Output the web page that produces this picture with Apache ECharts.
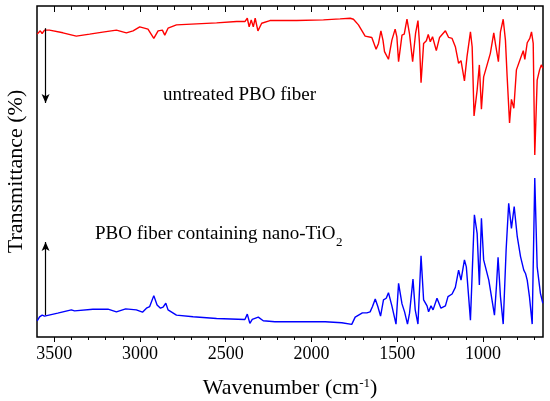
<!DOCTYPE html>
<html>
<head>
<meta charset="utf-8">
<title>FTIR spectra</title>
<script src="https://cdn.jsdelivr.net/npm/echarts@6/dist/echarts.min.js"></script>
<style>
  html, body { margin: 0; padding: 0; background: #fff; }
  #main { width: 550px; height: 401px; }
</style>
</head>
<body>
<div id="main"></div>
<script>
// untreated PBO fiber (red)
var redWn = [3599, 3581, 3570, 3556, 3527, 3449, 3371, 3293, 3217, 3137, 3079, 3040, 3001, 2953, 2919, 2894,
  2869, 2855, 2836, 2787, 2670, 2553, 2436, 2388, 2374, 2363, 2351, 2339, 2328, 2312, 2290, 2242, 2086,
  1930, 1833, 1774, 1755, 1726, 1687, 1648, 1638, 1623, 1609, 1595, 1583, 1574, 1564, 1551, 1531, 1512,
  1502, 1492, 1472, 1459, 1443, 1428, 1410, 1393, 1379, 1370, 1361, 1346, 1330, 1319, 1307, 1294, 1272,
  1253, 1219, 1200, 1180, 1161, 1142, 1128, 1108, 1093, 1073, 1063, 1052, 1034, 1021, 1009, 996, 976,
  957, 937, 926, 917, 910, 898, 882, 869, 859, 845, 834, 820, 805, 781, 765, 756, 742, 727, 717, 707,
  698, 684, 670, 660, 651];
var redT = [91.5, 92.5, 91.7, 92.7, 92.7, 91.9, 90.9, 91.5, 92.1, 92.7, 91.9, 92.5, 93.7, 93.0, 90.2, 92.5,
  92.7, 91.2, 93.3, 94.3, 94.6, 94.9, 95.3, 95.3, 96.3, 93.7, 95.8, 93.7, 96.3, 92.5, 94.8, 95.6, 95.6,
  95.8, 96.1, 96.3, 96.0, 94.3, 90.9, 90.5, 90.2, 86.9, 88.7, 92.5, 89.7, 86.2, 86.5, 83.9, 89.7, 93.0,
  90.7, 83.2, 91.2, 91.5, 96.0, 91.5, 83.2, 91.7, 95.6, 88.7, 76.8, 88.7, 89.5, 91.4, 89.2, 90.7, 86.5,
  90.5, 92.5, 90.5, 90.2, 87.7, 82.7, 83.5, 77.4, 84.7, 92.2, 87.7, 66.8, 74.6, 82.2, 68.8, 78.6, 82.2,
  85.7, 91.9, 88.2, 88.7, 83.2, 92.2, 96.0, 89.7, 78.6, 64.7, 71.8, 69.1, 80.7, 84.2, 86.5, 83.9, 88.9, 90.2, 92.2, 88.7,
  55.0, 77.6, 80.7, 82.2, 81.2];

// PBO fiber containing nano-TiO2 (blue)
var blueWn = [3599, 3585, 3570, 3556, 3479, 3400, 3381, 3274, 3186, 3137, 3083, 3021, 2985, 2962, 2943, 2919,
  2900, 2880, 2865, 2849, 2836, 2787, 2690, 2553, 2388, 2374, 2359, 2345, 2335, 2310, 2281, 2213, 1920,
  1823, 1765, 1745, 1703, 1677, 1658, 1644, 1628, 1613, 1597, 1580, 1564, 1551, 1531, 1507, 1492, 1472,
  1457, 1440, 1428, 1408, 1395, 1379, 1361, 1346, 1326, 1317, 1303, 1291, 1268, 1245, 1219, 1204, 1180,
  1161, 1142, 1128, 1108, 1097, 1073, 1050, 1034, 1021, 1009, 996, 966, 933, 921, 912, 898, 882, 865,
  850, 834, 818, 800, 781, 762, 752, 742, 729, 713, 698, 684, 665, 651];
var blueT = [4.9, 6.1, 6.6, 6.3, 7.2, 8.2, 7.9, 8.4, 8.4, 7.6, 8.5, 8.2, 7.5, 8.7, 9.2, 12.5,
  9.7, 8.7, 9.0, 10.2, 8.2, 6.6, 6.1, 5.6, 5.3, 6.9, 4.1, 5.3, 4.7, 6.0, 4.9, 4.6, 4.6,
  4.3, 3.8, 6.0, 7.3, 7.3, 7.6, 9.2, 11.5, 9.2, 6.3, 11.2, 11.7, 13.4, 9.4, 3.9, 16.2, 10.0,
  7.6, 3.9, 7.2, 17.5, 8.2, 3.9, 24.5, 11.2, 9.4, 7.6, 9.4, 8.2, 11.7, 8.7, 9.4, 12.2, 13.0,
  15.0, 20.2, 17.2, 23.3, 21.2, 5.1, 36.9, 31.3, 15.7, 35.9, 23.3, 17.2, 6.6, 15.7, 24.1, 12.2, 3.9, 26.3,
  40.4, 32.8, 39.4, 30.3, 24.3, 20.2, 19.2, 17.2, 12.2, 3.9, 48.0, 21.2, 13.2, 10.2];

var majorTicks = [1000, 1500, 2000, 2500, 3000, 3500];
var minorTicks = [];
for (var t = 700; t <= 3500; t += 100) {
  if (t % 500 !== 0) minorTicks.push(t);
}

// arrows: [wavenumber, from, to]
var arrowRed = [3550, 93.3, 70.7];
var arrowBlue = [3550, 6.6, 28.7];

function pairs(xs, ys) {
  return xs.map(function (x, i) { return [x, ys[i]]; });
}

var serif = '"Liberation Serif", "Times New Roman", serif';

// width of the label text, so the subscript can sit right after it
var label2 = 'PBO fiber containing nano-TiO';
var ctx = document.createElement('canvas').getContext('2d');
ctx.font = '19px ' + serif;
var label2Width = ctx.measureText(label2).width;

var chart = echarts.init(document.getElementById('main'), null, { renderer: 'canvas' });

function tickAxis(position, values, len, inside) {
  return {
    type: 'value',
    position: position,
    min: 650,
    max: 3600,
    inverse: true,
    axisLine: { show: false, onZero: false },
    splitLine: { show: false },
    axisLabel: {
      show: true,
      customValues: values,
      formatter: function () { return ''; }
    },
    axisTick: {
      show: true,
      inside: inside,
      length: len,
      customValues: values,
      lineStyle: { color: '#000', width: 1 }
    }
  };
}

var option = {
  backgroundColor: '#fff',
  animation: false,
  grid: {
    left: 37,
    right: 7,
    top: 6,
    bottom: 64,
    containLabel: false,
    outerBoundsMode: 'none',
    show: true,
    borderColor: '#000',
    borderWidth: 1.5
  },
  xAxis: [
    {
      type: 'value',
      position: 'bottom',
      min: 650,
      max: 3600,
      inverse: true,
      axisLine: { show: false, onZero: false },
      splitLine: { show: false },
      axisTick: {
        show: true,
        length: 5,
        customValues: majorTicks,
        lineStyle: { color: '#000', width: 1 }
      },
      axisLabel: {
        customValues: majorTicks,
        formatter: function (v) { return String(v); },
        margin: 8,
        color: '#000',
        fontFamily: serif,
        fontSize: 18
      },
      name: 'Wavenumber (cm{sup|-1})',
      nameLocation: 'middle',
      nameGap: 40,
      nameTextStyle: {
        color: '#000',
        fontFamily: serif,
        fontSize: 22,
        rich: {
          sup: { fontFamily: serif, fontSize: 13, verticalAlign: 'top', color: '#000' }
        }
      }
    },
    tickAxis('bottom', minorTicks, 3, false),
    tickAxis('top', majorTicks, 6, true),
    tickAxis('top', minorTicks, 4, true)
  ],
  yAxis: {
    type: 'value',
    min: 0,
    max: 100,
    axisLine: { show: false, onZero: false },
    axisTick: { show: false },
    axisLabel: { show: false },
    splitLine: { show: false },
    name: 'Transmittance (%)',
    nameLocation: 'middle',
    nameGap: 10,
    nameTextStyle: {
      color: '#000',
      fontFamily: serif,
      fontSize: 22
    }
  },
  series: [
    {
      name: 'untreated PBO fiber',
      type: 'line',
      data: pairs(redWn, redT),
      showSymbol: false,
      symbol: 'none',
      lineStyle: { color: '#ff0000', width: 1.4 },
      silent: true,
      markLine: {
        silent: true,
        symbol: ['none', 'arrow'],
        symbolSize: [6, 9],
        label: { show: false },
        lineStyle: { color: '#000', type: 'solid', width: 1.2 },
        data: [[{ coord: [arrowRed[0], arrowRed[1]] }, { coord: [arrowRed[0], arrowRed[2]] }]]
      }
    },
    {
      name: 'PBO fiber containing nano-TiO2',
      type: 'line',
      data: pairs(blueWn, blueT),
      showSymbol: false,
      symbol: 'none',
      lineStyle: { color: '#0000ff', width: 1.4 },
      silent: true,
      markLine: {
        silent: true,
        symbol: ['none', 'arrow'],
        symbolSize: [6, 9],
        label: { show: false },
        lineStyle: { color: '#000', type: 'solid', width: 1.2 },
        data: [[{ coord: [arrowBlue[0], arrowBlue[1]] }, { coord: [arrowBlue[0], arrowBlue[2]] }]]
      }
    }
  ],
  graphic: [
    {
      type: 'text',
      left: 163,
      top: 86,
      style: {
        text: 'untreated PBO fiber',
        font: '19px ' + serif,
        fill: '#000'
      }
    },
    {
      type: 'text',
      left: 95,
      top: 225,
      style: {
        text: label2,
        font: '19px ' + serif,
        fill: '#000'
      }
    },
    {
      type: 'text',
      left: 95 + label2Width + 0.5,
      top: 236,
      style: {
        text: '2',
        font: '13px ' + serif,
        fill: '#000'
      }
    }
  ]
};

chart.setOption(option);
</script>
</body>
</html>
